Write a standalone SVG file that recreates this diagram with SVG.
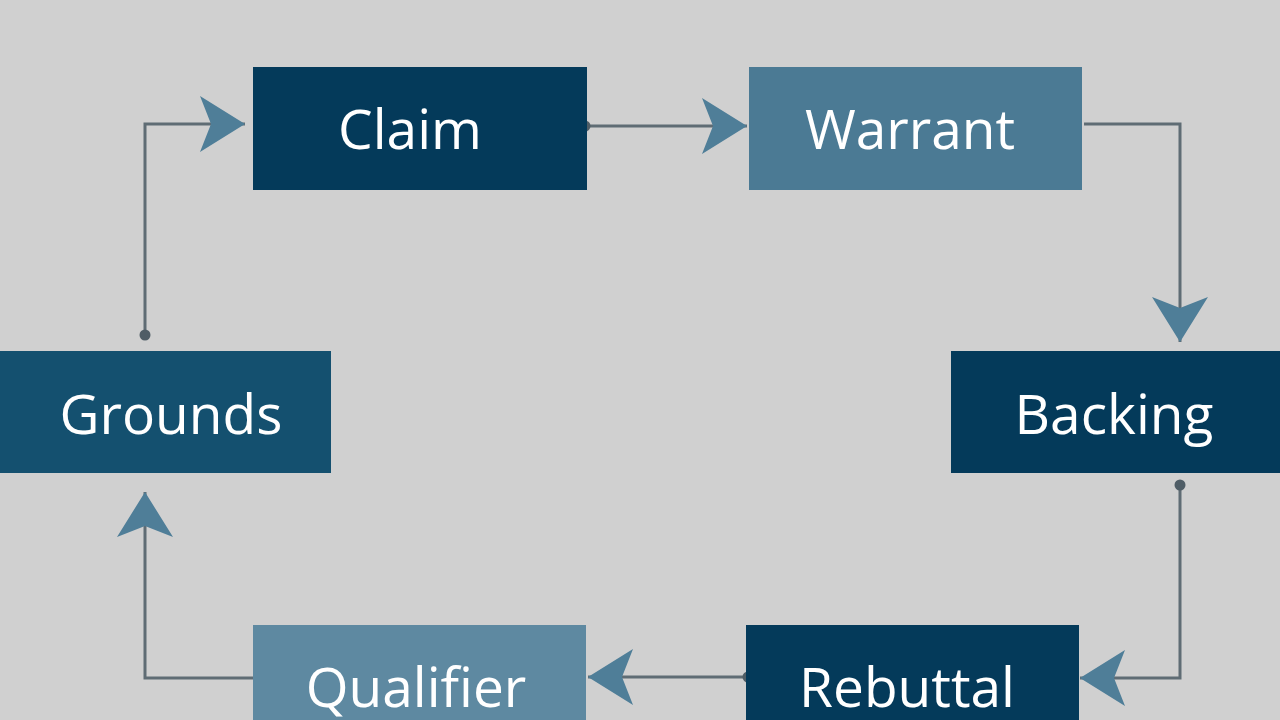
<svg xmlns="http://www.w3.org/2000/svg" width="1280" height="720" viewBox="0 0 1280 720">
<defs>
<marker id="ah" markerUnits="userSpaceOnUse" markerWidth="50" markerHeight="60" viewBox="-46 -30 48 60" refX="0" refY="0" orient="auto" overflow="visible">
<path d="M0,0 L-45,-28 L-34,0 L-45,28 Z" fill="#4f7e98"/>
</marker>
<marker id="dot" markerUnits="userSpaceOnUse" markerWidth="12" markerHeight="12" viewBox="-6 -6 12 12" refX="0" refY="0" overflow="visible">
<circle r="5.5" fill="#4f5d66"/>
</marker>
</defs>
<style>
.c{fill:none;stroke:#5f6c74;stroke-width:3}
.t{font-family:"Open Sans",sans-serif;font-size:55px;fill:#fff;text-anchor:middle}
.dk{fill:#043a5a}.md{fill:#14506f}.lt{fill:#4b7a94}.lq{fill:#5e89a1}
</style>
<rect width="1280" height="720" fill="#d0d0d0"/>
<g id="connectors">
<path class="c" d="M145,335 V124 H245" marker-start="url(#dot)" marker-end="url(#ah)"/>
<path class="c" d="M585,126 H747" marker-start="url(#dot)" marker-end="url(#ah)"/>
<path class="c" d="M1084,124 H1180 V342" marker-end="url(#ah)"/>
<path class="c" d="M1180,485 V678 H1080" marker-start="url(#dot)" marker-end="url(#ah)"/>
<path class="c" d="M748,677 H588" marker-start="url(#dot)" marker-end="url(#ah)"/>
<path class="c" d="M253,678 H145 V492" marker-end="url(#ah)"/>
</g>
<g id="claim"><rect class="dk" x="253" y="67" width="334" height="123"/><text class="t" x="410" y="149">Claim</text></g>
<g id="warrant"><rect class="lt" x="749" y="67" width="333" height="123"/><text class="t" x="910" y="149">Warrant</text></g>
<g id="backing"><rect class="dk" x="951" y="351" width="329" height="122"/><text class="t" x="1114" y="434">Backing</text></g>
<g id="grounds"><rect class="md" x="0" y="351" width="331" height="122"/><text class="t" x="171" y="434">Grounds</text></g>
<g id="rebuttal"><rect class="dk" x="746" y="625" width="333" height="95"/><text class="t" x="907" y="707">Rebuttal</text></g>
<g id="qualifier"><rect class="lq" x="253" y="625" width="333" height="95"/><text class="t" x="416" y="707">Qualifier</text></g>
</svg>
